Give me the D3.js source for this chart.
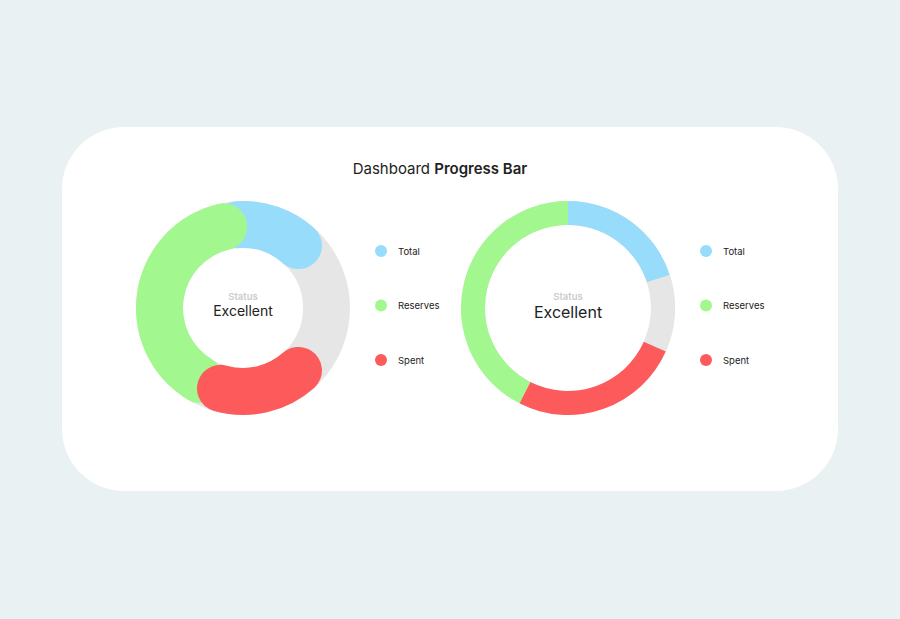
<!DOCTYPE html><html><head><meta charset="utf-8"><script src="https://cdn.jsdelivr.net/npm/d3@7"></script>
<style>body{margin:0;background:#e9f1f3;font-family:Inter,"Open Sans",sans-serif}</style></head><body><svg id="c" width="900" height="619"></svg><script>
const categories=["Total","Reserves","Spent"];
const colors={Total:"#97dcfb",Reserves:"#a3f78f",Spent:"#fd5b5b",Rest:"#e6e6e6"};
// angles in degrees (clockwise from top)
const leftSegs=[{k:"Total",a0:-20,a1:58},{k:"Reserves",a0:195,a1:363},{k:"Spent",a0:122,a1:212}];
const rightSegs=[{k:"Total",a0:0,a1:72},{k:"Rest",a0:72,a1:114},{k:"Spent",a0:114,a1:207},{k:"Reserves",a0:207,a1:360}];
const svg=d3.select("#c");
svg.append("rect").attr("x",62).attr("y",127).attr("width",776).attr("height",364).attr("rx",62).attr("fill","#fff");
const t=svg.append("text").attr("x",440).attr("y",174).attr("text-anchor","middle").attr("font-size",15).attr("fill","#222");
t.append("tspan").text("Dashboard ");t.append("tspan").attr("font-weight",600).text("Progress Bar");
const rad=d3.scaleLinear().domain([0,360]).range([0,2*Math.PI]);
function donut(cx,cy,ro,ri,segs,rounded,fs,ty){
 const g=svg.append("g").attr("transform",`translate(${cx},${cy})`);
 g.append("circle").attr("r",(ro+ri)/2).attr("fill","none").attr("stroke",colors.Rest).attr("stroke-width",ro-ri);
 const arc=d3.arc().innerRadius(ri).outerRadius(ro).cornerRadius(rounded?(ro-ri)/2:0);
 segs.forEach(s=>g.append("path").attr("d",arc({startAngle:rad(s.a0),endAngle:rad(s.a1)})).attr("fill",colors[s.k]));
 g.append("text").attr("y",-8).attr("text-anchor","middle").attr("font-size",9.5).attr("fill","#ccc").attr("font-weight",600).text("Status");
 g.append("text").attr("y",ty).attr("text-anchor","middle").attr("font-size",fs).attr("fill","#222").text("Excellent");
}
donut(243,308,107,60,leftSegs,true,14,8);
donut(568,308,107,83,rightSegs,false,16,10);
const ly=d3.scalePoint().domain(categories).range([251,360]);
[[381,398],[706,723]].forEach(([dx,tx])=>categories.forEach(c=>{
 svg.append("circle").attr("cx",dx).attr("cy",ly(c)).attr("r",6).attr("fill",colors[c]);
 svg.append("text").attr("x",tx).attr("y",ly(c)+3.5).attr("font-size",9.5).attr("fill","#222").text(c);
}));
</script></body></html>
